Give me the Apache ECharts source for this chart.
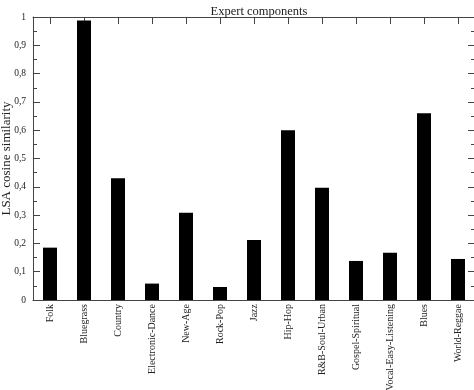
<!DOCTYPE html>
<html><head><meta charset="utf-8">
<script src="https://cdn.jsdelivr.net/npm/echarts@6/dist/echarts.min.js"></script>
<style>html,body{margin:0;padding:0;background:#fff}#c{width:474px;height:390px}</style>
</head><body><div id="c"></div>
<script>
const categories = ["Folk","Bluegrass","Country","Electronic-Dance","New-Age","Rock-Pop","Jazz","Hip-Hop","R&B-Soul-Urban","Gospel-Spiritual","Vocal-Easy-Listening","Blues","World-Reggae"];
const similarity = [0.185,0.988,0.430,0.058,0.308,0.046,0.212,0.600,0.397,0.138,0.167,0.660,0.145];
const titleText = "Expert components";
const yName = "LSA cosine similarity";

const F = "'Liberation Serif', 'Times New Roman', serif";
const axisCol = '#444';
const chart = echarts.init(document.getElementById('c'));
const fmt = v => (Math.round(v*10)/10).toString().replace('.', ',');
chart.setOption({
  animation:false,
  title:{text:titleText,left:254,textAlign:'center',top:0,textStyle:{fontFamily:F,fontSize:12.5,fontWeight:'normal',color:'#222'}},
  grid:{left:33,right:-1,top:17,bottom:90,containLabel:false,outerBoundsMode:'none'},
  xAxis:[{
    type:'category',data:categories,position:'bottom',
    axisLine:{onZero:false,lineStyle:{color:axisCol,width:1}},
    axisTick:{show:false},
    axisLabel:{rotate:90,fontFamily:F,fontSize:10,color:'#222',margin:4,interval:0}
  },{
    type:'category',data:categories,position:'top',
    axisLine:{onZero:false,lineStyle:{color:axisCol,width:1}},
    axisTick:{show:true,inside:true,alignWithLabel:true,interval:0,length:7,lineStyle:{color:axisCol}},
    axisLabel:{show:false,interval:0}
  }],
  yAxis:[{
    type:'value',min:0,max:1,interval:0.1,position:'left',
    name:yName,nameLocation:'middle',nameGap:20,nameRotate:90,nameMoveOverlap:false,
    nameTextStyle:{fontFamily:F,fontSize:13,color:'#222'},
    axisLine:{show:true,onZero:false,lineStyle:{color:axisCol,width:1}},
    axisTick:{show:true,inside:true,length:7,lineStyle:{color:axisCol}},
    minorTick:{show:true,splitNumber:2,length:4,lineStyle:{color:axisCol}},
    splitLine:{show:false},
    axisLabel:{fontFamily:F,fontSize:9.5,color:'#222',margin:7,formatter:fmt}
  },{
    type:'value',min:0,max:1,interval:0.1,position:'right',
    axisLine:{show:true,onZero:false,lineStyle:{color:axisCol,width:1}},
    axisTick:{show:true,inside:true,length:7,lineStyle:{color:axisCol}},
    minorTick:{show:true,splitNumber:2,length:4,lineStyle:{color:axisCol}},
    splitLine:{show:false},
    axisLabel:{show:false}
  }],
  series:[{type:'bar',data:similarity,barWidth:14,itemStyle:{color:'#000'},xAxisIndex:0,yAxisIndex:0}]
});
</script></body></html>
